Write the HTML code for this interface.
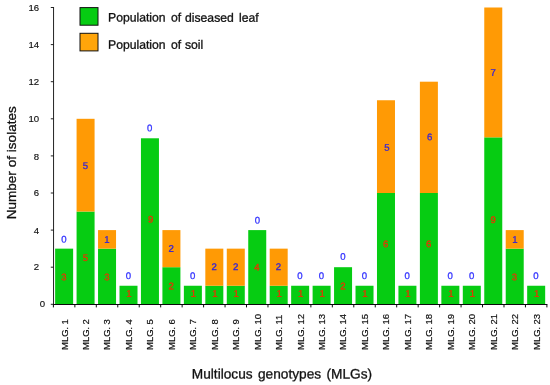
<!DOCTYPE html><html><head><meta charset="utf-8"><title>MLG chart</title><style>html,body{margin:0;padding:0;background:#fff}svg{display:block}text{font-family:"Liberation Sans",Arial,sans-serif}.v{font-size:9.6px;text-anchor:middle;stroke-width:0.28}.x{font-size:9.5px;word-spacing:-0.4px;fill:#111;stroke:#111;stroke-width:.2}.y{font-size:9.6px;fill:#111;text-anchor:end;stroke:#111;stroke-width:.15}.t{fill:#111;stroke:#111;stroke-width:.3}</style></head><body>
<svg width="550" height="385" viewBox="0 0 550 385">
<rect width="550" height="385" fill="#fff"/>
<rect x="55.13" y="248.65" width="18.0" height="55.65" fill="#06CC12"/>
<text class="v" transform="translate(63.93,280.28) rotate(0.04)" fill="#EE3000" stroke="#EE3000">3</text>
<text class="v" transform="translate(63.93,242.45) rotate(0.04)" fill="#3333FF" stroke="#3333FF">0</text>
<text class="x" transform="translate(67.53,350) rotate(-90)">MLG. 1</text>
<rect x="76.58" y="211.55" width="18.0" height="92.75" fill="#06CC12"/>
<rect x="76.58" y="118.80" width="18.0" height="92.75" fill="#FF9A05"/>
<text class="v" transform="translate(85.38,261.02) rotate(0.04)" fill="#EE3000" stroke="#EE3000">5</text>
<text class="v" transform="translate(85.38,169.08) rotate(0.04)" fill="#3322D8" stroke="#3322D8">5</text>
<text class="x" transform="translate(88.98,350) rotate(-90)">MLG. 2</text>
<rect x="98.04" y="248.65" width="18.0" height="55.65" fill="#06CC12"/>
<rect x="98.04" y="230.10" width="18.0" height="18.55" fill="#FF9A05"/>
<text class="v" transform="translate(106.84,280.28) rotate(0.04)" fill="#EE3000" stroke="#EE3000">3</text>
<text class="v" transform="translate(106.84,242.78) rotate(0.04)" fill="#3322D8" stroke="#3322D8">1</text>
<text class="x" transform="translate(110.44,350) rotate(-90)">MLG. 3</text>
<rect x="119.50" y="285.75" width="18.0" height="18.55" fill="#06CC12"/>
<text class="v" transform="translate(129.00,296.83) rotate(0.04)" fill="#EE3000" stroke="#EE3000">1</text>
<text class="v" transform="translate(128.30,278.95) rotate(0.04)" fill="#3333FF" stroke="#3333FF">0</text>
<text class="x" transform="translate(131.90,350) rotate(-90)">MLG. 4</text>
<rect x="140.95" y="138.28" width="18.0" height="166.02" fill="#06CC12"/>
<text class="v" transform="translate(150.75,222.52) rotate(0.04)" fill="#EE3000" stroke="#EE3000">9</text>
<text class="v" transform="translate(149.75,131.15) rotate(0.04)" fill="#3333FF" stroke="#3333FF">0</text>
<text class="x" transform="translate(153.35,350) rotate(-90)">MLG. 5</text>
<rect x="162.41" y="267.20" width="18.0" height="37.10" fill="#06CC12"/>
<rect x="162.41" y="230.10" width="18.0" height="37.10" fill="#FF9A05"/>
<text class="v" transform="translate(171.21,289.35) rotate(0.04)" fill="#EE3000" stroke="#EE3000">2</text>
<text class="v" transform="translate(171.21,251.75) rotate(0.04)" fill="#3322D8" stroke="#3322D8">2</text>
<text class="x" transform="translate(174.81,350) rotate(-90)">MLG. 6</text>
<rect x="183.87" y="285.75" width="18.0" height="18.55" fill="#06CC12"/>
<text class="v" transform="translate(193.37,296.83) rotate(0.04)" fill="#EE3000" stroke="#EE3000">1</text>
<text class="v" transform="translate(192.67,278.95) rotate(0.04)" fill="#3333FF" stroke="#3333FF">0</text>
<text class="x" transform="translate(196.27,350) rotate(-90)">MLG. 7</text>
<rect x="205.32" y="285.75" width="18.0" height="18.55" fill="#06CC12"/>
<rect x="205.32" y="248.65" width="18.0" height="37.10" fill="#FF9A05"/>
<text class="v" transform="translate(214.82,296.83) rotate(0.04)" fill="#EE3000" stroke="#EE3000">1</text>
<text class="v" transform="translate(214.12,269.90) rotate(0.04)" fill="#3322D8" stroke="#3322D8">2</text>
<text class="x" transform="translate(217.72,350) rotate(-90)">MLG. 8</text>
<rect x="226.78" y="285.75" width="18.0" height="18.55" fill="#06CC12"/>
<rect x="226.78" y="248.65" width="18.0" height="37.10" fill="#FF9A05"/>
<text class="v" transform="translate(236.28,296.83) rotate(0.04)" fill="#EE3000" stroke="#EE3000">1</text>
<text class="v" transform="translate(235.58,269.90) rotate(0.04)" fill="#3322D8" stroke="#3322D8">2</text>
<text class="x" transform="translate(239.18,350) rotate(-90)">MLG. 9</text>
<rect x="248.24" y="230.10" width="18.0" height="74.20" fill="#06CC12"/>
<text class="v" transform="translate(257.04,270.50) rotate(0.04)" fill="#EE3000" stroke="#EE3000">4</text>
<text class="v" transform="translate(257.34,223.50) rotate(0.04)" fill="#3333FF" stroke="#3333FF">0</text>
<text class="x" transform="translate(260.64,350) rotate(-90)">MLG. 10</text>
<rect x="269.69" y="285.75" width="18.0" height="18.55" fill="#06CC12"/>
<rect x="269.69" y="248.65" width="18.0" height="37.10" fill="#FF9A05"/>
<text class="v" transform="translate(279.19,296.83) rotate(0.04)" fill="#EE3000" stroke="#EE3000">1</text>
<text class="v" transform="translate(278.49,269.90) rotate(0.04)" fill="#3322D8" stroke="#3322D8">2</text>
<text class="x" transform="translate(282.09,350) rotate(-90)">MLG. 11</text>
<rect x="291.15" y="285.75" width="18.0" height="18.55" fill="#06CC12"/>
<text class="v" transform="translate(300.65,296.83) rotate(0.04)" fill="#EE3000" stroke="#EE3000">1</text>
<text class="v" transform="translate(299.95,278.95) rotate(0.04)" fill="#3333FF" stroke="#3333FF">0</text>
<text class="x" transform="translate(303.55,350) rotate(-90)">MLG. 12</text>
<rect x="312.61" y="285.75" width="18.0" height="18.55" fill="#06CC12"/>
<text class="v" transform="translate(322.11,296.83) rotate(0.04)" fill="#EE3000" stroke="#EE3000">1</text>
<text class="v" transform="translate(321.41,278.95) rotate(0.04)" fill="#3333FF" stroke="#3333FF">0</text>
<text class="x" transform="translate(325.01,350) rotate(-90)">MLG. 13</text>
<rect x="334.06" y="267.20" width="18.0" height="37.10" fill="#06CC12"/>
<text class="v" transform="translate(342.86,289.35) rotate(0.04)" fill="#EE3000" stroke="#EE3000">2</text>
<text class="v" transform="translate(342.86,259.80) rotate(0.04)" fill="#3333FF" stroke="#3333FF">0</text>
<text class="x" transform="translate(346.46,350) rotate(-90)">MLG. 14</text>
<rect x="355.52" y="285.75" width="18.0" height="18.55" fill="#06CC12"/>
<text class="v" transform="translate(365.02,296.83) rotate(0.04)" fill="#EE3000" stroke="#EE3000">1</text>
<text class="v" transform="translate(364.32,278.95) rotate(0.04)" fill="#3333FF" stroke="#3333FF">0</text>
<text class="x" transform="translate(367.92,350) rotate(-90)">MLG. 15</text>
<rect x="376.98" y="193.00" width="18.0" height="111.30" fill="#06CC12"/>
<rect x="376.98" y="100.25" width="18.0" height="92.75" fill="#FF9A05"/>
<text class="v" transform="translate(385.78,247.35) rotate(0.04)" fill="#EE3000" stroke="#EE3000">6</text>
<text class="v" transform="translate(386.98,150.72) rotate(0.04)" fill="#3322D8" stroke="#3322D8">5</text>
<text class="x" transform="translate(389.38,350) rotate(-90)">MLG. 16</text>
<rect x="398.43" y="285.75" width="18.0" height="18.55" fill="#06CC12"/>
<text class="v" transform="translate(407.93,296.83) rotate(0.04)" fill="#EE3000" stroke="#EE3000">1</text>
<text class="v" transform="translate(407.23,278.95) rotate(0.04)" fill="#3333FF" stroke="#3333FF">0</text>
<text class="x" transform="translate(410.83,350) rotate(-90)">MLG. 17</text>
<rect x="419.89" y="193.00" width="18.0" height="111.30" fill="#06CC12"/>
<rect x="419.89" y="81.70" width="18.0" height="111.30" fill="#FF9A05"/>
<text class="v" transform="translate(428.69,247.35) rotate(0.04)" fill="#EE3000" stroke="#EE3000">6</text>
<text class="v" transform="translate(429.69,140.25) rotate(0.04)" fill="#3322D8" stroke="#3322D8">6</text>
<text class="x" transform="translate(432.29,350) rotate(-90)">MLG. 18</text>
<rect x="441.35" y="285.75" width="18.0" height="18.55" fill="#06CC12"/>
<text class="v" transform="translate(450.85,296.83) rotate(0.04)" fill="#EE3000" stroke="#EE3000">1</text>
<text class="v" transform="translate(450.15,278.95) rotate(0.04)" fill="#3333FF" stroke="#3333FF">0</text>
<text class="x" transform="translate(453.75,350) rotate(-90)">MLG. 19</text>
<rect x="462.80" y="285.75" width="18.0" height="18.55" fill="#06CC12"/>
<text class="v" transform="translate(472.30,296.83) rotate(0.04)" fill="#EE3000" stroke="#EE3000">1</text>
<text class="v" transform="translate(471.60,278.95) rotate(0.04)" fill="#3333FF" stroke="#3333FF">0</text>
<text class="x" transform="translate(475.20,350) rotate(-90)">MLG. 20</text>
<rect x="484.26" y="137.35" width="18.0" height="166.95" fill="#06CC12"/>
<rect x="484.26" y="7.50" width="18.0" height="129.85" fill="#FF9A05"/>
<text class="v" transform="translate(493.06,222.92) rotate(0.04)" fill="#EE3000" stroke="#EE3000">9</text>
<text class="v" transform="translate(493.06,75.83) rotate(0.04)" fill="#3322D8" stroke="#3322D8">7</text>
<text class="x" transform="translate(496.66,350) rotate(-90)">MLG. 21</text>
<rect x="505.72" y="248.65" width="18.0" height="55.65" fill="#06CC12"/>
<rect x="505.72" y="230.10" width="18.0" height="18.55" fill="#FF9A05"/>
<text class="v" transform="translate(514.52,280.28) rotate(0.04)" fill="#EE3000" stroke="#EE3000">3</text>
<text class="v" transform="translate(514.82,242.78) rotate(0.04)" fill="#3322D8" stroke="#3322D8">1</text>
<text class="x" transform="translate(518.12,350) rotate(-90)">MLG. 22</text>
<rect x="527.17" y="285.75" width="18.0" height="18.55" fill="#06CC12"/>
<text class="v" transform="translate(536.67,296.83) rotate(0.04)" fill="#EE3000" stroke="#EE3000">1</text>
<text class="v" transform="translate(535.97,278.95) rotate(0.04)" fill="#3333FF" stroke="#3333FF">0</text>
<text class="x" transform="translate(539.57,350) rotate(-90)">MLG. 23</text>
<path d="M53.55 7.0V304.8" fill="none" stroke="#0a0a0a" stroke-width="0.9"/>
<path d="M53.1 304.5H547.3" fill="none" stroke="#0a0a0a" stroke-width="1.1"/>
<path d="M50.8 304.30H53.4" stroke="#0a0a0a" stroke-width="0.9"/>
<text class="y" x="45.10" y="307">0</text>
<path d="M50.8 267.20H53.4" stroke="#0a0a0a" stroke-width="0.9"/>
<text class="y" x="39.10" y="270">2</text>
<path d="M50.8 230.10H53.4" stroke="#0a0a0a" stroke-width="0.9"/>
<text class="y" x="39.10" y="234">4</text>
<path d="M50.8 193.00H53.4" stroke="#0a0a0a" stroke-width="0.9"/>
<text class="y" x="39.10" y="196">6</text>
<path d="M50.8 155.90H53.4" stroke="#0a0a0a" stroke-width="0.9"/>
<text class="y" x="39.10" y="160">8</text>
<path d="M50.8 118.80H53.4" stroke="#0a0a0a" stroke-width="0.9"/>
<text class="y" x="39.10" y="122">10</text>
<path d="M50.8 81.70H53.4" stroke="#0a0a0a" stroke-width="0.9"/>
<text class="y" x="39.10" y="85">12</text>
<path d="M50.8 44.60H53.4" stroke="#0a0a0a" stroke-width="0.9"/>
<text class="y" x="39.10" y="48">14</text>
<path d="M50.8 7.50H53.4" stroke="#0a0a0a" stroke-width="0.9"/>
<text class="y" x="39.10" y="11">16</text>
<path d="M53.40 304.3V307.40000000000003" stroke="#0a0a0a" stroke-width="1"/>
<path d="M74.86 304.3V307.40000000000003" stroke="#0a0a0a" stroke-width="1"/>
<path d="M96.31 304.3V307.40000000000003" stroke="#0a0a0a" stroke-width="1"/>
<path d="M117.77 304.3V307.40000000000003" stroke="#0a0a0a" stroke-width="1"/>
<path d="M139.23 304.3V307.40000000000003" stroke="#0a0a0a" stroke-width="1"/>
<path d="M160.68 304.3V307.40000000000003" stroke="#0a0a0a" stroke-width="1"/>
<path d="M182.14 304.3V307.40000000000003" stroke="#0a0a0a" stroke-width="1"/>
<path d="M203.60 304.3V307.40000000000003" stroke="#0a0a0a" stroke-width="1"/>
<path d="M225.05 304.3V307.40000000000003" stroke="#0a0a0a" stroke-width="1"/>
<path d="M246.51 304.3V307.40000000000003" stroke="#0a0a0a" stroke-width="1"/>
<path d="M267.97 304.3V307.40000000000003" stroke="#0a0a0a" stroke-width="1"/>
<path d="M289.42 304.3V307.40000000000003" stroke="#0a0a0a" stroke-width="1"/>
<path d="M310.88 304.3V307.40000000000003" stroke="#0a0a0a" stroke-width="1"/>
<path d="M332.33 304.3V307.40000000000003" stroke="#0a0a0a" stroke-width="1"/>
<path d="M353.79 304.3V307.40000000000003" stroke="#0a0a0a" stroke-width="1"/>
<path d="M375.25 304.3V307.40000000000003" stroke="#0a0a0a" stroke-width="1"/>
<path d="M396.70 304.3V307.40000000000003" stroke="#0a0a0a" stroke-width="1"/>
<path d="M418.16 304.3V307.40000000000003" stroke="#0a0a0a" stroke-width="1"/>
<path d="M439.62 304.3V307.40000000000003" stroke="#0a0a0a" stroke-width="1"/>
<path d="M461.07 304.3V307.40000000000003" stroke="#0a0a0a" stroke-width="1"/>
<path d="M482.53 304.3V307.40000000000003" stroke="#0a0a0a" stroke-width="1"/>
<path d="M503.99 304.3V307.40000000000003" stroke="#0a0a0a" stroke-width="1"/>
<path d="M525.44 304.3V307.40000000000003" stroke="#0a0a0a" stroke-width="1"/>
<path d="M546.90 304.3V307.40000000000003" stroke="#0a0a0a" stroke-width="1"/>
<rect x="80" y="7.6" width="18" height="17.6" fill="#06CC12" stroke="#111" stroke-width="1"/>
<rect x="80" y="33.3" width="18" height="17.6" fill="#FFA50A" stroke="#111" stroke-width="1"/>
<text class="t" transform="translate(0,21.5) rotate(0.04)" font-size="12.2"><tspan x="108">Population</tspan> <tspan x="171.1">of</tspan> <tspan x="185">diseased</tspan> <tspan x="239">leaf</tspan></text>
<text class="t" transform="translate(0,48.7) rotate(0.04)" font-size="12.2"><tspan x="108">Population</tspan> <tspan x="171.1">of</tspan> <tspan x="185">soil</tspan></text>
<text class="t" transform="translate(16.0,219.3) rotate(-90)" font-size="13.5" word-spacing="0.2">Number of isolates</text>
<text class="t" transform="translate(191.8,378.4) rotate(0.04)" font-size="13.7" word-spacing="1.5">Multilocus genotypes (MLGs)</text>
</svg></body></html>
